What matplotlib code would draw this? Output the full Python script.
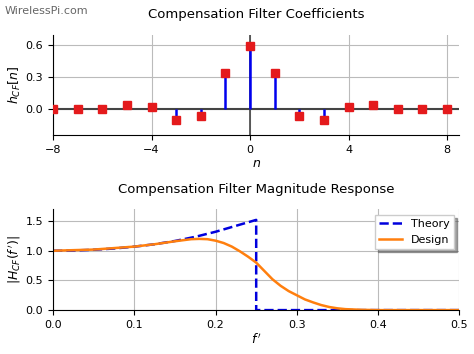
import numpy as np
import matplotlib
matplotlib.use("Agg")
import matplotlib.pyplot as plt

# koefisien filter kompensasi
n = np.arange(-8, 9)
h_cf = [0.0, -0.005, -0.005, 0.035, 0.015, -0.105, -0.068, 0.333, 0.595,
        0.333, -0.068, -0.105, 0.015, 0.035, -0.005, -0.005, 0.0]

# respon magnitudo: teori
f_theory = [0.0, 0.025, 0.05, 0.075, 0.1, 0.125, 0.15, 0.175, 0.2, 0.225, 0.25, 0.25, 0.5]
h_theory = [1.0, 1.004, 1.017, 1.038, 1.069, 1.11, 1.165, 1.235, 1.32, 1.42, 1.52, 0.0, 0.0]

# respon magnitudo: desain
f_design = [0.0, 0.05, 0.1, 0.125, 0.15, 0.17, 0.18, 0.19, 0.2, 0.21, 0.22, 0.23,
            0.24, 0.25, 0.26, 0.27, 0.28, 0.29, 0.3, 0.31, 0.32, 0.33, 0.34, 0.35,
            0.36, 0.38, 0.4, 0.5]
h_design = [1.0, 1.02, 1.07, 1.11, 1.16, 1.195, 1.2, 1.195, 1.17, 1.13, 1.07, 0.99,
            0.9, 0.8, 0.66, 0.52, 0.41, 0.32, 0.25, 0.18, 0.13, 0.085, 0.052, 0.03,
            0.016, 0.005, 0.0, 0.0]

fig = plt.figure(figsize=(4.74, 3.54), dpi=100)
fs = 8

# grafik atas: koefisien
ax1 = fig.add_axes([0.112, 0.619, 0.857, 0.283])
ax1.axhline(0, color='#444444', lw=1.5, zorder=1)
ax1.axvline(0, color='#444444', lw=1.2, zorder=1)
ml, sl, bl = ax1.stem(n, h_cf, linefmt='b-', markerfmt='s', basefmt=' ')
plt.setp(sl, color='#0000ee', linewidth=1.8)
plt.setp(ml, color='#e41a1c', markersize=5.5, zorder=3)
ax1.set_xlim(-8, 8.5)
ax1.set_ylim(-0.25, 0.7)
ax1.set_xticks([-8, -4, 0, 4, 8])
ax1.set_yticks([0.0, 0.3, 0.6])
ax1.set_yticklabels(['0.0', '0.3', '0.6'])
ax1.grid(True, color='#bbbbbb', lw=0.8)
ax1.set_axisbelow(True)
ax1.spines['top'].set_visible(False)
ax1.spines['right'].set_visible(False)
ax1.tick_params(labelsize=fs)
ax1.set_xlabel('$n$', fontsize=9, labelpad=2)
ax1.set_ylabel('$h_{CF}[n]$', fontsize=9, labelpad=2)
ax1.set_title('Compensation Filter Coefficients', fontsize=9.5, pad=12)

# grafik bawah: respon magnitudo
ax2 = fig.add_axes([0.112, 0.124, 0.857, 0.285])
ax2.plot(f_theory, h_theory, '--', color='#0000dd', lw=1.8, label='Theory')
ax2.plot(f_design, h_design, '-', color='#ff7f0e', lw=1.8, label='Design')
ax2.set_xlim(0, 0.5)
ax2.set_ylim(0, 1.7)
ax2.set_xticks([0.0, 0.1, 0.2, 0.3, 0.4, 0.5])
ax2.set_yticks([0.0, 0.5, 1.0, 1.5])
ax2.grid(True, color='#bbbbbb', lw=0.8)
ax2.spines['top'].set_visible(False)
ax2.spines['right'].set_visible(False)
ax2.tick_params(labelsize=fs)
ax2.set_xlabel("$f\\,'$", fontsize=9, labelpad=2)
ax2.set_ylabel("$|H_{CF}(f\\,')|$", fontsize=9, labelpad=2)
ax2.set_title('Compensation Filter Magnitude Response', fontsize=9.5, pad=12)
ax2.legend(loc='upper right', fontsize=fs, shadow=True, fancybox=False)

# tanda air
fig.text(0.01, 0.96, 'WirelessPi.com', fontsize=8, color='#666666')

fig.savefig('out.png', dpi=100)
